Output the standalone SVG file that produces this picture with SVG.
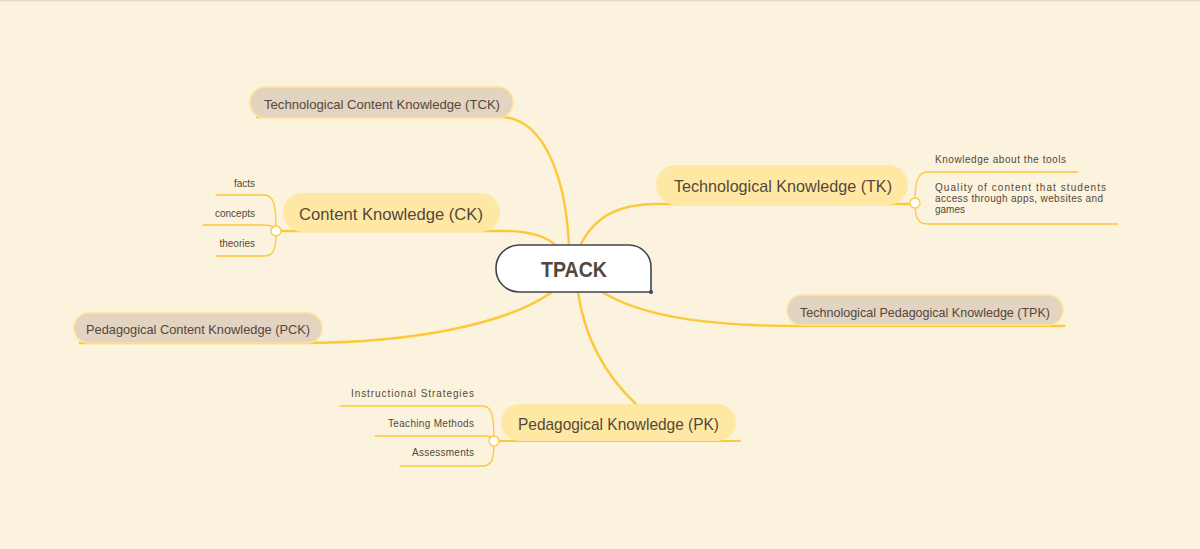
<svg xmlns="http://www.w3.org/2000/svg" width="1200" height="549" viewBox="0 0 1200 549">
<style>
.bg{fill:#FBF3DD}
.ln{fill:none;stroke:#FDC93A;stroke-linecap:round}
.main{stroke-width:2.4}
.und{stroke-width:1.8}
.sub{stroke-width:1.3}
.dot{fill:#FFFFFF;stroke:#FDC93A;stroke-width:1.3}
.py{fill:#FFE8A4}
.pb{fill:#E3D3C1;stroke:#FFE39C;stroke-width:1.5}
text{font-family:"Liberation Sans","DejaVu Sans",sans-serif;fill:#54483C}
.t1{font-size:17px}
.t2{font-size:13px}
.t3{font-size:10px}
</style>
<rect class="bg" x="0" y="0" width="1200" height="549"/>
<rect x="0" y="0" width="1200" height="1.5" fill="#E2DDCF"/>
<g id="connectors">
<path class="ln main" d="M257,117 L500,117 C545,117 566,180 569,246"/>
<path class="ln main" d="M281,231 L505,231 C530,231 548,237 556,246"/>
<path class="ln main" d="M580,246 C595,215 620,204 657,204 L910,204"/>
<path class="ln main" d="M602,292 C640,315 700,326 800,326 L1064,326"/>
<path class="ln main" d="M578,292 C585,340 605,375 636,404"/>
<path class="ln und" d="M499,441 L740,441"/>
<path class="ln main" d="M80,343 L300,343 C420,343 510,322 552,292"/>
<path class="ln sub" d="M276,231 C276,205 274,195 264,195 L216,195"/>
<path class="ln sub" d="M276,231 C275,227 272,225 265,225 L203,225"/>
<path class="ln sub" d="M276,231 C276,250 274,256 264,256 L216,256"/>
<path class="ln sub" d="M915,203 C915,180 918,172 928,172 L1078,172"/>
<path class="ln sub" d="M915,203 C915,218 918,224 928,224 L1118,224"/>
<path class="ln sub" d="M494,441 C494,415 492,406 482,406 L340,406"/>
<path class="ln sub" d="M494,441 C493,438 490,436 484,436 L375,436"/>
<path class="ln sub" d="M494,441 C494,460 492,466 482,466 L400,466"/>
</g>
<g id="tpack">
<path d="M519,245 H629 A22,22 0 0 1 651,267 V292 H519 A23,23 0 0 1 496,269 V268 A23,23 0 0 1 519,245 Z" fill="#FFFFFF" stroke="#3E4550" stroke-width="1.6"/>
<circle cx="651" cy="292" r="2" fill="#3E4550"/>
<text x="574" y="277" text-anchor="middle" font-size="22" font-weight="bold" fill="#5C4A33" textLength="66" lengthAdjust="spacingAndGlyphs">TPACK</text>
</g>
<g id="tck">
<rect class="pb" x="250" y="87" width="263" height="31" rx="15.5"/>
<text class="t2" x="264" y="109" textLength="236" lengthAdjust="spacingAndGlyphs">Technological Content Knowledge (TCK)</text>
</g>
<g id="ck">
<rect class="py" x="283" y="193" width="217" height="39" rx="19.5"/>
<text class="t1" x="299" y="220" textLength="184" lengthAdjust="spacingAndGlyphs">Content Knowledge (CK)</text>
<circle class="dot" cx="276" cy="231" r="5"/>
</g>
<g id="ck-facts"><text class="t3" x="255" y="187" text-anchor="end">facts</text></g>
<g id="ck-concepts"><text class="t3" x="255" y="217" text-anchor="end">concepts</text></g>
<g id="ck-theories"><text class="t3" x="255" y="247" text-anchor="end">theories</text></g>
<g id="tk">
<rect class="py" x="656" y="165" width="252" height="40" rx="20"/>
<text class="t1" x="674" y="192" textLength="218" lengthAdjust="spacingAndGlyphs">Technological Knowledge (TK)</text>
<circle class="dot" cx="915" cy="203" r="5"/>
</g>
<g id="tk-tools"><text class="t3" x="935" y="163" textLength="131" lengthAdjust="spacing">Knowledge about the tools</text></g>
<g id="tk-quality">
<text class="t3" x="935" y="191" textLength="171" lengthAdjust="spacing">Quality of content that students</text>
<text class="t3" x="935" y="202" textLength="168" lengthAdjust="spacing">access through apps, websites and</text>
<text class="t3" x="935" y="213">games</text>
</g>
<g id="tpk">
<rect class="pb" x="787" y="295" width="276" height="30" rx="15"/>
<text class="t2" x="800" y="317" textLength="250" lengthAdjust="spacingAndGlyphs">Technological Pedagogical Knowledge (TPK)</text>
</g>
<g id="pk">
<rect class="py" x="501" y="404" width="235" height="37" rx="18.5"/>
<text class="t1" x="518" y="430" textLength="201" lengthAdjust="spacingAndGlyphs">Pedagogical Knowledge (PK)</text>
<circle class="dot" cx="494" cy="441" r="5"/>
</g>
<g id="pk-instructional"><text class="t3" x="474" y="397" text-anchor="end" textLength="123" lengthAdjust="spacing">Instructional Strategies</text></g>
<g id="pk-teaching"><text class="t3" x="474" y="427" text-anchor="end" textLength="86" lengthAdjust="spacing">Teaching Methods</text></g>
<g id="pk-assessments"><text class="t3" x="474" y="456" text-anchor="end" textLength="62" lengthAdjust="spacing">Assessments</text></g>
<g id="pck">
<rect class="pb" x="74" y="313" width="248" height="30" rx="15"/>
<text class="t2" x="86" y="334" textLength="224" lengthAdjust="spacingAndGlyphs">Pedagogical Content Knowledge (PCK)</text>
</g>
</svg>
